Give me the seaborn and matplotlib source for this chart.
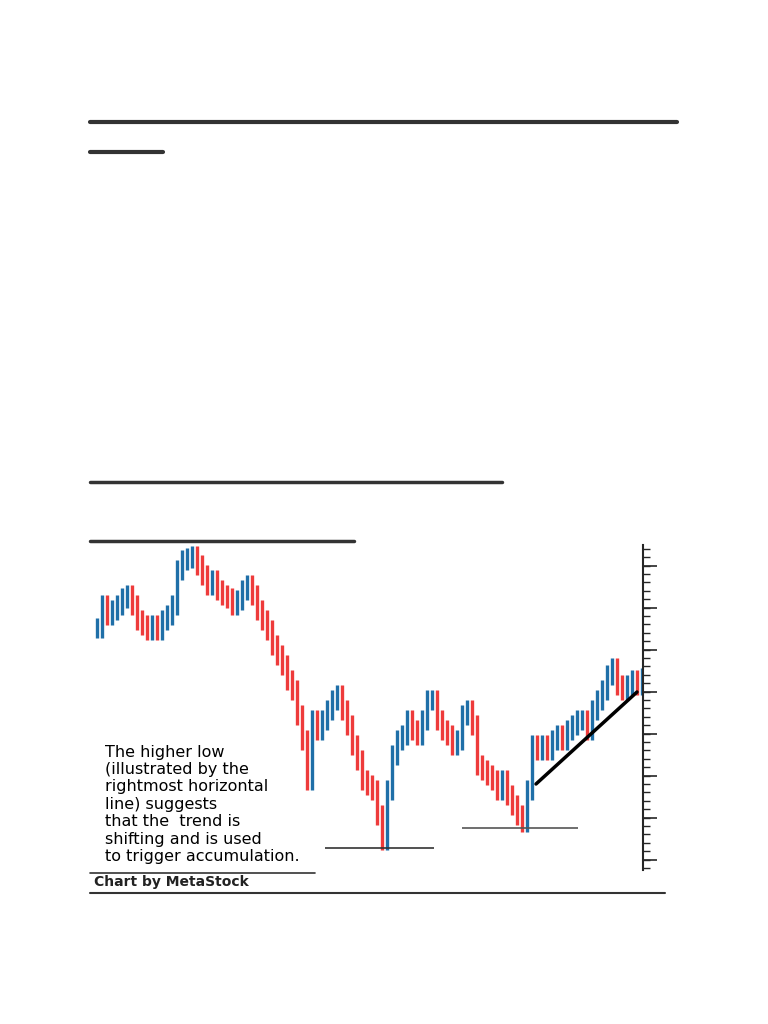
import matplotlib
matplotlib.use("Agg")
import matplotlib.pyplot as plt
import seaborn as sns
import numpy as np

sns.set_style("white")
plt.rcParams['font.family'] = ['DejaVu Sans']

# closing prices (arbitrary price units)
closes = [372, 395, 385, 390, 395, 402, 405, 395, 380, 375, 370, 375, 370, 380, 385, 395,
          430, 440, 442, 444, 435, 425, 415, 420, 410, 405, 402, 395, 400, 410, 415, 405,
          390, 380, 370, 355, 345, 335, 320, 310, 285, 260, 220, 280, 270, 280, 290, 300,
          305, 290, 275, 255, 240, 220, 215, 210, 185, 160, 210, 245, 260, 265, 280, 270,
          265, 280, 300, 300, 280, 270, 265, 255, 260, 285, 290, 275, 235, 230, 225, 220,
          210, 220, 205, 195, 185, 178, 210, 255, 250, 255, 250, 260, 265, 260, 270, 275,
          280, 280, 270, 290, 300, 310, 325, 332, 315, 310, 315, 320, 315, 322, 328]
support_levels = [160, 174]
note = ["The higher low", "(illustrated by the", "rightmost horizontal", "line) suggests",
        "that the  trend is", "shifting and is used", "to trigger accumulation."]

fig = plt.figure(figsize=(7.68, 10.24), dpi=100)
page = fig.add_axes([0, 0, 1, 1])
page.set_xlim(0, 768)
page.set_ylim(1024, 0)
page.axis('off')

# page rules
rules = [(122, 90, 677, 3), (152, 90, 163, 3), (482, 90, 502, 2.5), (541, 90, 354, 2.5),
         (873, 90, 315, 1.2), (893, 90, 665, 1.5)]
for y, x0, x1, lw in rules:
    page.plot([x0, x1], [y, y], color='#333333', lw=lw)

# price chart
W, H = 768, 1024
ax = fig.add_axes([90 / W, 1 - 870 / H, (643 - 90) / W, (870 - 545) / H])
ax.patch.set_alpha(0)
ax.set_xlim(-1.4, 109.2)
ax.set_ylim(130, 455)
prev = closes[0]
for i, c in enumerate(closes):
    lo, hi = min(prev, c) - 10, max(prev, c) + 10
    col = '#ee3b3b' if c < prev else '#1f6fa8'
    ax.vlines(i, lo, hi, color=col, lw=2.4)
    prev = c
# support lines and trendline
ax.hlines(support_levels[0] - 8, 45.6, 67.4, color='#333333', lw=1.2)
ax.hlines(support_levels[1] - 2, 73, 96.2, color='#555555', lw=1.2)
ax.plot([87.8, 108], [216, 308], color='black', lw=2.5)

for s in ['top', 'left', 'bottom']:
    ax.spines[s].set_visible(False)
ax.spines['right'].set_linewidth(1.5)
ax.yaxis.tick_right()
ax.set_xticks([])
ax.set_yticks(np.arange(130 + 10, 455, 42))
ax.set_yticks(np.arange(130 + 2, 455, 8.4), minor=True)
ax.tick_params(axis='y', which='major', direction='out', length=10, width=1.2, labelright=False)
ax.tick_params(axis='y', which='minor', direction='out', length=5, width=1, labelright=False)

for k, line in enumerate(note):
    page.text(105, 752 + k * 17.5, line, fontsize=11.5, va='center', ha='left', color='black')
page.text(94, 882, "Chart by MetaStock", fontsize=10, va='center', ha='left',
          fontweight='bold', color='#222222')

fig.savefig("out.png", dpi=100)
